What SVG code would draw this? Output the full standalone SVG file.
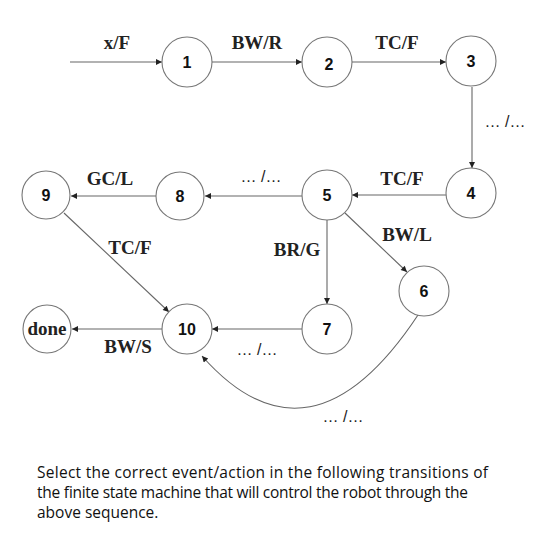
<svg xmlns="http://www.w3.org/2000/svg" width="549" height="544" viewBox="0 0 549 544">
<defs>
<marker id="ah" viewBox="0 0 10 10" refX="10" refY="5" markerWidth="8" markerHeight="6" markerUnits="userSpaceOnUse" orient="auto">
<path d="M0,0 L10,5 L0,10 z" fill="#222"/>
</marker>
</defs>
<style>
.st{fill:#fff;stroke:#777;stroke-width:1.1}
.num{font-family:"Liberation Sans",Arial,sans-serif;font-weight:bold;font-size:16px;fill:#111;text-anchor:middle}
.lbl{font-family:"Liberation Serif","Times New Roman",serif;font-weight:bold;font-size:19px;fill:#222;text-anchor:middle}
.dots{font-family:"Liberation Sans",Arial,sans-serif;font-size:16px;fill:#222;text-anchor:middle}
.e{fill:none;stroke:#666;stroke-width:1.1;marker-end:url(#ah)}
.body{font-family:"Open Sans","Liberation Sans",sans-serif;font-size:15.5px;fill:#111}
</style>
<rect width="549" height="544" fill="#fff"/>
<g id="connectors">
<path class="e" d="M70,62 L162,62"/>
<path class="e" d="M212,62 L302,62"/>
<path class="e" d="M352,62 L446,62"/>
<path class="e" d="M472,87 L472,168"/>
<path class="e" d="M446,195 L352,195"/>
<path class="e" d="M302,196 L205,196"/>
<path class="e" d="M156,196 L71,196"/>
<path class="e" d="M64,213 L169,312"/>
<path class="e" d="M327,220 L327,304"/>
<path class="e" d="M345,213 L407,272"/>
<path class="e" d="M302,329 L212,329"/>
<path class="e" d="M163,329 L72,329"/>
<path class="e" d="M418,315 Q310,478 202,356"/>
<text class="lbl" x="117" y="49">x/F</text>
<text class="lbl" x="257" y="49">BW/R</text>
<text class="lbl" x="397" y="49">TC/F</text>
<text class="dots" x="505" y="127">… /…</text>
<text class="lbl" x="402" y="185">TC/F</text>
<text class="dots" x="261" y="182">… /…</text>
<text class="lbl" x="110" y="185">GC/L</text>
<text class="lbl" x="130" y="254">TC/F</text>
<text class="lbl" x="297" y="256">BR/G</text>
<text class="lbl" x="407" y="241">BW/L</text>
<text class="dots" x="257" y="355">… /…</text>
<text class="lbl" x="128" y="353">BW/S</text>
<text class="dots" x="343" y="422">… /…</text>
</g>
<g id="n1"><circle class="st" cx="187" cy="62" r="25"/><text class="num" x="187" y="68">1</text></g>
<g id="n2"><circle class="st" cx="327" cy="62" r="25"/><text class="num" x="329" y="70">2</text></g>
<g id="n3"><circle class="st" cx="471" cy="61" r="25"/><text class="num" x="471" y="67">3</text></g>
<g id="n4"><circle class="st" cx="471" cy="193" r="25"/><text class="num" x="471" y="199">4</text></g>
<g id="n5"><circle class="st" cx="327" cy="195" r="25"/><text class="num" x="327" y="201">5</text></g>
<g id="n8"><circle class="st" cx="180" cy="196" r="24"/><text class="num" x="180" y="202">8</text></g>
<g id="n9"><circle class="st" cx="46" cy="195" r="24"/><text class="num" x="46" y="201">9</text></g>
<g id="n6"><circle class="st" cx="424" cy="291" r="25"/><text class="num" x="424" y="297">6</text></g>
<g id="n7"><circle class="st" cx="327" cy="329" r="25"/><text class="num" x="327" y="335">7</text></g>
<g id="n10"><circle class="st" cx="187" cy="329" r="25"/><text class="num" x="187" y="335">10</text></g>
<g id="ndone"><circle class="st" cx="47" cy="329" r="24"/><text class="lbl" x="47" y="335" font-size="18">done</text></g>
<g id="caption">
<text class="body" x="37" y="478" textLength="451" lengthAdjust="spacing">Select the correct event/action in the following transitions of</text>
<text class="body" x="37" y="498" textLength="431" lengthAdjust="spacing">the finite state machine that will control the robot through the</text>
<text class="body" x="37" y="518">above sequence.</text>
</g>
</svg>
